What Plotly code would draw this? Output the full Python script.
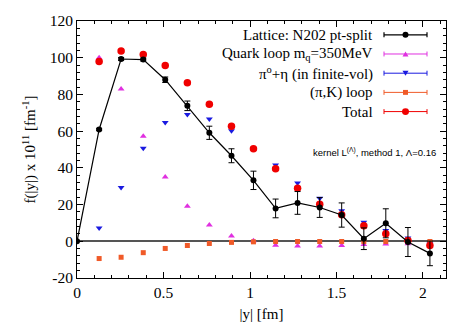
import plotly.graph_objects as go

# ---- data ----
y_fm = [0.0, 0.128, 0.255, 0.383, 0.510, 0.638, 0.765, 0.893, 1.020,
        1.148, 1.275, 1.403, 1.530, 1.658, 1.785, 1.913, 2.040]
lattice = [0.0, 60.9, 99.3, 99.0, 88.0, 73.8, 59.1, 46.6, 33.2,
           17.9, 20.9, 18.4, 14.3, 1.4, 9.8, -0.4, -6.6]
lattice_err = [0.0, 0.6, 0.8, 0.8, 1.5, 2.6, 3.6, 3.8, 5.0,
               5.1, 6.2, 5.4, 6.6, 5.9, 7.9, 7.9, 6.7]

x_model = y_fm[1:]
quark_loop = [100.0, 83.0, 57.2, 35.0, 19.1, 8.9, 2.9, 0.3,
              -2.1, -2.6, -2.6, -2.3, -1.8, -1.5, -1.3, -1.0]
pi0_eta = [7.3, 29.3, 50.7, 64.7, 69.0, 66.6, 60.2, 50.4,
           41.6, 31.8, 23.4, 16.6, 10.4, 5.9, 1.8, -1.2]
piK_loop = [-9.4, -8.7, -6.2, -3.9, -2.3, -1.2, -0.6, -0.3,
            -0.1, -0.1, -0.1, -0.1, -0.1, -0.1, -0.1, -0.1]
total = [97.9, 103.6, 101.8, 95.7, 86.4, 74.7, 62.7, 50.4,
         39.5, 28.9, 20.2, 14.5, 8.4, 4.1, 0.4, -2.3]

names = ["Lattice: N202 pt-split", "Quark loop m<sub>q</sub>=350MeV",
         "π<sup>o</sup>+η (in finite-vol)", "(π,K) loop", "Total"]
colors = ["#000000", "#e030e0", "#1a1ae0", "#f05a28", "#f00000"]

x_ticks = [0, 0.5, 1, 1.5, 2]
x_ticktext = ["0", "0.5", "1", "1.5", "2"]
y_ticks = [-20, 0, 20, 40, 60, 80, 100, 120]
y_ticktext = ["-20", "0", "20", "40", "60", "80", "100", "120"]

SERIF = "Liberation Serif, Times New Roman, serif"
X_RANGE = [0, 2.133]
Y_RANGE = [-20, 120]

fig = go.Figure()
fig.add_trace(go.Scatter(x=x_model, y=quark_loop, mode="markers",
                         marker=dict(symbol="triangle-up", size=6, color=colors[1]),
                         showlegend=False))
fig.add_trace(go.Scatter(x=x_model, y=pi0_eta, mode="markers",
                         marker=dict(symbol="triangle-down", size=6, color=colors[2]),
                         showlegend=False))
fig.add_trace(go.Scatter(x=x_model, y=piK_loop, mode="markers",
                         marker=dict(symbol="square", size=5, color=colors[3]),
                         showlegend=False))
fig.add_trace(go.Scatter(x=x_model, y=total, mode="markers",
                         marker=dict(symbol="circle", size=7.5, color=colors[4]),
                         showlegend=False))
fig.add_trace(go.Scatter(x=y_fm, y=lattice, mode="lines+markers",
                         line=dict(color="#000000", width=1.2),
                         marker=dict(symbol="circle", size=6, color="#000000"),
                         error_y=dict(type="data", array=lattice_err, color="#000000",
                                      thickness=1, width=3),
                         showlegend=False))
# invisible trace to carry mirrored (top/right) axes
fig.add_trace(go.Scatter(x=[y_fm[0]], y=[lattice[0]], xaxis="x2", yaxis="y2",
                         mode="markers", marker=dict(opacity=0), hoverinfo="skip",
                         showlegend=False))

# ---- custom gnuplot-style legend (paper coords) ----
L, R, T, B = 77, 446, 19, 280
W, H = R - L, B - T
def px(x):
    return (x - L) / W
def py(y):
    return (B - y) / H

row_y = [33, 52.5, 72, 91.5, 111]
symbols = ["circle", "tri-up", "tri-down", "square", "circle-big"]
shapes = []
annotations = []
for name, col, ry, sym in zip(names, colors, row_y, symbols):
    annotations.append(dict(x=px(375), y=py(ry), xref="paper", yref="paper",
                            text=name, showarrow=False, xanchor="right", yanchor="middle",
                            font=dict(family=SERIF, size=15, color="#000")))
    lw = 1.2 if col == "#000000" else 1
    shapes.append(dict(type="line", xref="paper", yref="paper",
                       x0=px(384), x1=px(427), y0=py(ry), y1=py(ry),
                       line=dict(color=col, width=lw)))
    for cx in (384, 427):
        shapes.append(dict(type="line", xref="paper", yref="paper",
                           x0=px(cx), x1=px(cx), y0=py(ry - 2.5), y1=py(ry + 2.5),
                           line=dict(color=col, width=lw)))
    mx = 405.5
    if sym.startswith("circle"):
        r = 3 if sym == "circle" else 3.5
        shapes.append(dict(type="circle", xref="paper", yref="paper",
                           x0=px(mx - r), x1=px(mx + r), y0=py(ry + r), y1=py(ry - r),
                           fillcolor=col, line=dict(color=col, width=0)))
    elif sym == "square":
        r = 2.5
        shapes.append(dict(type="rect", xref="paper", yref="paper",
                           x0=px(mx - r), x1=px(mx + r), y0=py(ry + r), y1=py(ry - r),
                           fillcolor=col, line=dict(color=col, width=0)))
    else:
        s = 1 if sym == "tri-up" else -1
        p = (f"M {px(mx-3)},{py(ry+2.5*s)} L {px(mx+3)},{py(ry+2.5*s)} "
             f"L {px(mx)},{py(ry-2.5*s)} Z")
        shapes.append(dict(type="path", xref="paper", yref="paper", path=p,
                           fillcolor=col, line=dict(color=col, width=0)))

annotations.append(dict(x=px(438), y=py(152), xref="paper", yref="paper",
                        text="kernel L<sup>(Λ)</sup>, method 1, Λ=0.16",
                        showarrow=False, xanchor="right", yanchor="middle",
                        font=dict(family="Liberation Sans", size=9.5, color="#000")))

axis_common = dict(showline=True, linecolor="#000", linewidth=1,
                   ticks="inside", ticklen=6, tickcolor="#000", showgrid=False)
tickfont = dict(family=SERIF, size=15.5, color="#000")

fig.update_layout(
    width=474, height=331,
    margin=dict(l=L, r=474 - R, t=T, b=331 - B),
    paper_bgcolor="white", plot_bgcolor="white",
    font=dict(family=SERIF, size=15, color="#000"),
    shapes=shapes, annotations=annotations,
    xaxis=dict(range=X_RANGE, tickvals=x_ticks, ticktext=x_ticktext,
               zeroline=False, tickfont=tickfont,
               minor=dict(dtick=0.1, tick0=0, ticks="inside", ticklen=3, tickcolor="#000"),
               title=dict(text="|y| [fm]", font=dict(family=SERIF, size=15, color="#000"),
                          standoff=8),
               **axis_common),
    yaxis=dict(range=Y_RANGE, tickvals=y_ticks, ticktext=y_ticktext, zeroline=True,
               zerolinecolor="#555", zerolinewidth=1.5, tickfont=tickfont,
               minor=dict(dtick=4, tick0=0, ticks="inside", ticklen=3, tickcolor="#000"),
               title=dict(text="f(|y|) x 10<sup>11</sup> [fm<sup>-1</sup>]",
                          font=dict(family=SERIF, size=15, color="#000"), standoff=10),
               **axis_common),
    xaxis2=dict(range=X_RANGE, overlaying="x", side="top", anchor="y2",
                tickvals=x_ticks, showticklabels=False, zeroline=False,
                minor=dict(dtick=0.1, tick0=0, ticks="inside", ticklen=3, tickcolor="#000"),
                **axis_common),
    yaxis2=dict(range=Y_RANGE, overlaying="y", side="right", anchor="x2",
                tickvals=y_ticks, showticklabels=False, zeroline=False,
                minor=dict(dtick=4, tick0=0, ticks="inside", ticklen=3, tickcolor="#000"),
                **axis_common),
)

fig.write_html("out.html")
